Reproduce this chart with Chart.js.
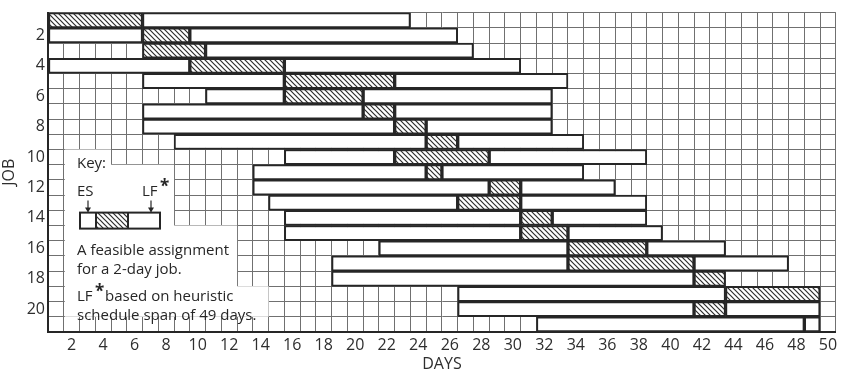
<!DOCTYPE html>
<html>
<head>
<meta charset="utf-8">
<script src="https://cdn.jsdelivr.net/npm/chart.js@4.4.0/dist/chart.umd.min.js"></script>
<style>
  html, body { margin: 0; padding: 0; background: #fff; }
  #wrap { width: 849px; height: 374px; position: relative; }
</style>
</head>
<body>
<div id="wrap"><canvas id="chart"></canvas></div>
<script>
// Job schedule: earliest start, assigned window, latest finish (days)
const jobs = ['1','2','3','4','5','6','7','8','9','10','11','12','13','14','15','16','17','18','19','20','21'];
const earlyStart  = [0, 0, 6, 0, 6, 10, 6, 6, 8, 15, 13, 13, 14, 15, 15, 21, 18, 18, 26, 26, 31];
const assignStart = [0, 6, 6, 9, 15, 15, 20, 22, 24, 22, 24, 28, 26, 30, 30, 33, 33, 41, 43, 41, 48];
const assignEnd   = [6, 9, 10, 15, 22, 20, 22, 24, 26, 28, 25, 30, 30, 32, 33, 38, 41, 43, 49, 43, 49];
const lateFinish  = [23, 26, 27, 30, 33, 32, 32, 32, 34, 38, 34, 36, 38, 38, 39, 43, 47, 43, 49, 49, 49];
const unshadedJobs = ['21'];
const dayTicks = [2, 4, 6, 8, 10, 12, 14, 16, 18, 20, 22, 24, 26, 28, 30, 32, 34, 36, 38, 40, 42, 44, 46, 48, 50];
const jobTicks = ['2', '4', '6', '8', '10', '12', '14', '16', '18', '20'];

const ink = '#262626';
const gridColor = '#707070';
const font = 'Open Sans';

// hatch pattern "\\\\"
function makeHatch(){
  const s = 5;
  const c = document.createElement('canvas');
  c.width = s; c.height = s;
  const g = c.getContext('2d');
  g.fillStyle = '#fff';
  g.fillRect(0, 0, s, s);
  g.strokeStyle = '#2e2e2e';
  g.lineWidth = 1.2;
  g.beginPath();
  g.moveTo(-1, -1); g.lineTo(s + 1, s + 1);
  g.moveTo(-1, s - 1); g.lineTo(1, s + 1);
  g.moveTo(s - 1, -1); g.lineTo(s + 1, 1);
  g.stroke();
  return g.createPattern(c, 'repeat');
}
const hatch = makeHatch();

const before = jobs.map((j, i) => earlyStart[i] < assignStart[i] ? [earlyStart[i], assignStart[i]] : null);
const assign = jobs.map((j, i) => [assignStart[i], assignEnd[i]]);
const after = jobs.map((j, i) => assignEnd[i] < lateFinish[i] ? [assignEnd[i], lateFinish[i]] : null);

const barStyle = {
  borderColor: ink,
  borderWidth: 2,
  borderSkipped: false,
  barPercentage: 1,
  categoryPercentage: 1,
  grouped: false,
};

// white key panel + notes
const keyPanel = {
  id: 'keyPanel',
  beforeDatasetsDraw(chart){
    const {ctx, scales: {x, y}, chartArea: ca} = chart;
    const py = r => y.getPixelForValue(r);
    const pts = [[1, 8.5], [4, 8.5], [4, 9.5], [8, 9.5], [8, 13.5], [12, 13.5], [12, 17.5], [14, 17.5], [14, 19.5], [1, 19.5]];
    ctx.save();
    ctx.fillStyle = '#fff';
    ctx.beginPath();
    pts.forEach(([d, r], i) => {
      const px = x.getPixelForValue(d) + (i === 0 || i === pts.length - 1 ? 1 : 0);
      i ? ctx.lineTo(px, py(r)) : ctx.moveTo(px, py(r));
    });
    ctx.closePath();
    ctx.fill();

    const L = ca.left, T = ca.top;
    const f = `15px "${font}"`, star = `bold 17px "${font}"`;
    ctx.fillStyle = ink;
    ctx.textBaseline = 'middle';
    ctx.font = f;
    ctx.fillText('Key:', L + 29, T + 151);
    ctx.fillText('ES', L + 29, T + 179);
    ctx.fillText('LF', L + 94, T + 179);
    ctx.font = star;
    ctx.fillText('*', L + 112, T + 175);
    ctx.font = f;
    ctx.fillText('A feasible assignment', L + 29, T + 238);
    ctx.fillText('for a 2-day job.', L + 29, T + 257);
    ctx.fillText('LF', L + 29, T + 284);
    ctx.font = star;
    ctx.fillText('*', L + 47, T + 280);
    ctx.font = f;
    ctx.fillText('based on heuristic', L + 57, T + 284);
    ctx.fillText('schedule span of 49 days.', L + 29, T + 303);

    // arrows
    ctx.strokeStyle = ink;
    ctx.lineWidth = 1.2;
    [L + 40, L + 103].forEach(ax => {
      ctx.beginPath();
      ctx.moveTo(ax, T + 188); ctx.lineTo(ax, T + 199);
      ctx.stroke();
      ctx.beginPath();
      ctx.moveTo(ax - 3, T + 195); ctx.lineTo(ax, T + 200); ctx.lineTo(ax + 3, T + 195);
      ctx.fill();
    });

    // sample bar
    const bx = L + 32, by = T + 200, bh = 16;
    ctx.fillStyle = '#fff';
    ctx.fillRect(bx, by, 80, bh);
    ctx.fillStyle = hatch;
    ctx.fillRect(bx + 16, by, 32, bh);
    ctx.lineWidth = 2;
    ctx.strokeRect(bx, by, 80, bh);
    ctx.beginPath();
    ctx.moveTo(bx + 16, by); ctx.lineTo(bx + 16, by + bh);
    ctx.moveTo(bx + 48, by); ctx.lineTo(bx + 48, by + bh);
    ctx.stroke();
    ctx.restore();
  }
};

new Chart(document.getElementById('chart'), {
  type: 'bar',
  data: {
    labels: jobs,
    datasets: [
      { label: 'ES slack', data: before, backgroundColor: '#fff', ...barStyle },
      { label: 'Assignment', data: assign, backgroundColor: c => unshadedJobs.includes(jobs[c.dataIndex]) ? '#fff' : hatch, ...barStyle },
      { label: 'LF slack', data: after, backgroundColor: '#fff', ...barStyle },
    ]
  },
  options: {
    indexAxis: 'y',
    responsive: true,
    maintainAspectRatio: false,
    animation: false,
    layout: { padding: { top: 4, right: 11, left: 0, bottom: 0 } },
    plugins: { legend: { display: false }, tooltip: { enabled: false } },
    scales: {
      x: {
        type: 'linear',
        min: 0, max: 50,
        afterFit: s => { s.height = 42; },
        grid: { color: gridColor, lineWidth: 1, drawTicks: false },
        border: { color: ink, width: 2 },
        ticks: {
          stepSize: 1, autoSkip: false, maxRotation: 0,
          labelOffset: -7.9, padding: 4,
          color: '#2e2e2e', font: { family: font, size: 16 },
          callback: v => dayTicks.includes(v) ? String(v) : ''
        },
        title: { display: true, text: 'DAYS', color: '#2e2e2e', font: { family: font, size: 16 }, padding: { top: 0, bottom: 0 } }
      },
      y: {
        type: 'category',
        afterFit: s => { s.width = 48; },
        grid: { color: gridColor, lineWidth: 1, drawTicks: false, offset: true },
        border: { color: ink, width: 2 },
        ticks: {
          autoSkip: false, padding: 3,
          color: '#2e2e2e', font: { family: font, size: 16 },
          callback: function(v){ const l = this.getLabelForValue(v); return jobTicks.includes(l) ? l : ''; }
        },
        title: { display: true, text: 'JOB', color: '#2e2e2e', font: { family: font, size: 16 }, padding: { top: 0, bottom: 0 } }
      }
    }
  },
  plugins: [keyPanel]
});
</script>
</body>
</html>
